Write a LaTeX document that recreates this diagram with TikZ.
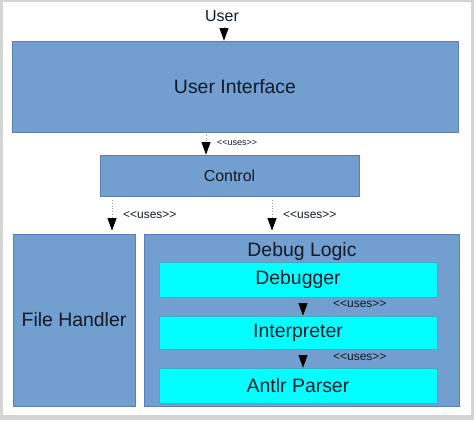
\documentclass[tikz,border=0pt]{standalone}
\usepackage{fontspec}
\setmainfont{Liberation Sans}
\usetikzlibrary{arrows.meta}
\definecolor{boxblue}{HTML}{729FCF}
\definecolor{boxedge}{HTML}{5A80B2}
\definecolor{cyanfill}{HTML}{00FFFF}
\definecolor{cyanedge}{HTML}{3AAFC6}
\definecolor{txt}{HTML}{111A28}
\definecolor{frame}{HTML}{D4D4D4}
\tikzset{
  bluebox/.style={draw=boxedge, fill=boxblue, line width=0.8bp, inner sep=0pt, text=txt},
  cyanbox/.style={draw=cyanedge, fill=cyanfill, line width=0.8bp, inner sep=0pt, text=txt},
  big/.style={font=\fontsize{19.5}{22}\selectfont},
  mid/.style={font=\fontsize{16}{18}\selectfont},
  uses/.style={font=\fontsize{12}{14}\selectfont, text=txt, anchor=west, inner sep=0pt},
  usessmall/.style={font=\fontsize{9}{11}\selectfont, text=txt, anchor=west, inner sep=0pt},
  dep/.style={draw=gray!80, dotted, line width=0.7bp,
    -{Triangle[length=12.5bp, width=9bp, color=black]}},
}
\begin{document}
\begin{tikzpicture}[x=1bp, y=-1bp]
\useasboundingbox (0,0) rectangle (474,420);
\fill[frame] (0,0) rectangle (474,420);
\fill[white] (2.5,2) rectangle (470.5,414.5);

% nodes
\node[mid, text=txt, inner sep=0pt] (user) at (222,16) {User};
\node[bluebox, big, minimum width=446bp, minimum height=91bp] (ui) at (235,86.5) {User Interface};
\node[bluebox, mid, minimum width=259bp, minimum height=41bp] (ctrl) at (229.5,175.5) {Control};
\node[bluebox, big, minimum width=122bp, minimum height=172bp] (fh) at (74,320) {File Handler};
\node[bluebox, minimum width=315bp, minimum height=172bp] (dl) at (301.5,320) {};
\node[big, text=txt, inner sep=0pt] (dltitle) at (302,251) {Debug Logic};
\node[cyanbox, big, minimum width=278bp, minimum height=35bp] (dbg) at (298,279.5) {Debugger};
\node[cyanbox, big, minimum width=278bp, minimum height=33bp] (interp) at (298,332.5) {Interpreter};
\node[cyanbox, big, minimum width=278bp, minimum height=35bp] (antlr) at (298,385.5) {Antlr Parser};

% helper coordinates
\coordinate (xu) at (224,27);
\coordinate (x1) at (206,0);
\coordinate (x2) at (112,0);
\coordinate (x3) at (272,0);
\coordinate (x4) at (303,0);

% connectors
\draw[dep] (xu) -- (xu |- ui.north);
\draw[dep] (ui.south -| x1) -- (ctrl.north -| x1);
\draw[dep, shorten <=4bp, shorten >=3bp] (ctrl.south -| x2) -- (fh.north -| x2);
\draw[dep, shorten <=4bp, shorten >=3bp] (ctrl.south -| x3) -- (dl.north -| x3);
\draw[dep] (dbg.south -| x4) -- (interp.north -| x4);
\draw[dep] (interp.south -| x4) -- (antlr.north -| x4);

% labels
\node[usessmall] (l1) at (217,143) {<{}<uses>{}>};
\node[uses] (l2) at (123,215) {<{}<uses>{}>};
\node[uses] (l3) at (283,215) {<{}<uses>{}>};
\node[uses] (l4) at (333,304) {<{}<uses>{}>};
\node[uses] (l5) at (333,357) {<{}<uses>{}>};
\end{tikzpicture}
\end{document}
